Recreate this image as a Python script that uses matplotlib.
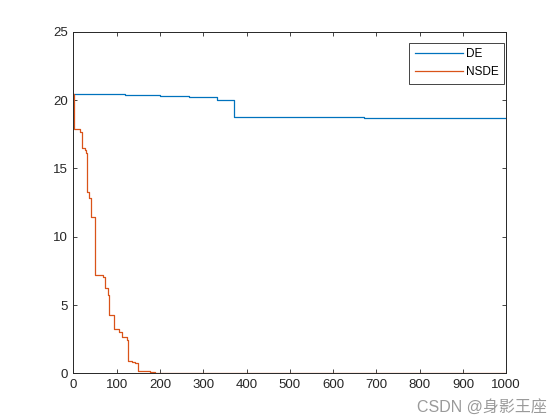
import matplotlib
matplotlib.use("Agg")
import matplotlib.pyplot as plt

# DE best fitness breakpoints (iteration, value)
de_x = [0, 120, 200, 267, 332, 371, 672, 1000]
de_y = [20.42, 20.39, 20.32, 20.20, 19.99, 18.76, 18.71, 18.71]

# NSDE best fitness breakpoints (iteration, value)
nsde_x = [0, 1, 16, 20, 26, 30, 32, 36, 40, 49, 51, 69, 73, 81, 82, 95, 105, 112,
          125, 127, 135, 143, 150, 177, 189, 199, 1000]
nsde_y = [20.45, 17.86, 17.69, 16.47, 16.35, 16.10, 13.29, 12.81, 11.46, 8.78, 7.20,
          7.03, 6.22, 5.73, 4.27, 3.25, 3.05, 2.64, 2.44, 0.90, 0.80, 0.73, 0.17,
          0.07, 0.03, 0.0, 0.0]

xticks = [0, 100, 200, 300, 400, 500, 600, 700, 800, 900, 1000]
yticks = [0, 5, 10, 15, 20, 25]

plt.rcParams['font.family'] = ['Liberation Sans', 'DejaVu Sans']

fig = plt.figure(figsize=(5.6, 4.2), dpi=100)
ax = fig.add_axes([0.131, 0.111, 0.773, 0.8135])

ax.step(de_x, de_y, where='post', color='#0072BD', lw=0.9, label='DE')
ax.step(nsde_x, nsde_y, where='post', color='#D95319', lw=0.9, label='NSDE')

ax.set_xlim(0, 1000)
ax.set_ylim(0, 25)
ax.set_xticks(xticks)
ax.set_yticks(yticks)
axc = '#262626'
ax.tick_params(direction='in', length=3, width=0.6, top=True, right=True,
               labelsize=9.5, colors=axc, pad=4)
for s in ax.spines.values():
    s.set_color(axc)
    s.set_linewidth(0.7)

leg = ax.legend(loc='upper right', fontsize=8.5, frameon=True, fancybox=False,
                edgecolor=axc, framealpha=1, handlelength=4.1, handletextpad=0.25,
                borderpad=0.45, labelspacing=0.55, borderaxespad=0.0,
                bbox_to_anchor=(0.995, 0.968))
leg.get_frame().set_linewidth(0.6)

fig.text(0.977, 0.032, 'CSDN @身影王座', ha='right', va='center', fontsize=11.5,
         color='#9a9a9a', family=['Liberation Sans', 'Noto Sans CJK SC', 'DejaVu Sans'])

fig.savefig('out.png', dpi=100)
